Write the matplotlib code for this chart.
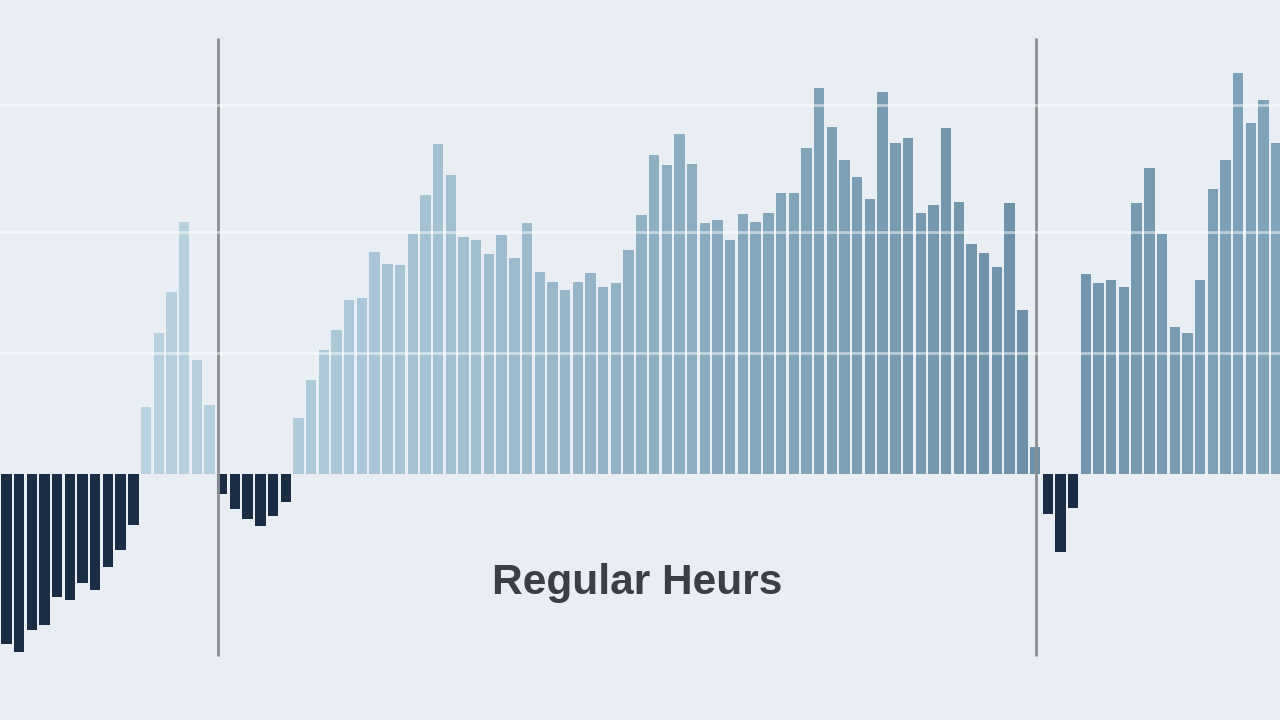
import numpy as np
import matplotlib
matplotlib.use('Agg')
import matplotlib.pyplot as plt
from matplotlib.colors import LinearSegmentedColormap

# bar values per slot (positive = light bars, negative = dark bars)
pre_market_1 = [-170, -178, -156, -151, -123, -126, -109, -116, -93, -76, -51]
early_bump = [67, 141, 182, 252, 114, 69]
pre_market_2 = [-20, -35, -45, -52, -42, -28]
regular_hours = [56, 94, 124, 144, 174, 176, 222, 210, 209, 240, 279, 330, 299,
                 237, 234, 220, 239, 216, 251, 202, 192, 184, 192, 201, 187, 191,
                 224, 259, 319, 309, 340, 310, 251, 254, 234, 260, 252, 261, 281,
                 281, 326, 386, 347, 314, 297, 275, 382, 331, 336, 261, 269, 346,
                 272, 230, 221, 207, 271, 164, 27]
after_dip = [-40, -78, -34]
after_hours = [200, 191, 194, 187, 271, 306, 240, 147, 141, 194, 285, 314, 401,
               351, 374, 331]

session_breaks = [16.67, 81.07]
grid_levels = [121, 242, 369]
label = 'Regular Heurs'

values = np.array(pre_market_1 + early_bump + pre_market_2 + regular_hours
                  + after_dip + after_hours)
slots = np.arange(len(values))

light = LinearSegmentedColormap.from_list(
    'light', [(0, '#c4d9e5'), (0.3, '#a9c5d5'), (0.8, '#6c91a8'), (1.0, '#80a4ba')])
colors = [light(i / (len(values) - 1)) if v > 0 else '#1b2d45'
          for i, v in enumerate(values)]

fig = plt.figure(figsize=(12.8, 7.2), dpi=100)
fig.patch.set_facecolor('#e8eef4')
ax = fig.add_axes([0, 0, 1, 1])
ax.set_facecolor('#e8eef4')

ax.bar(slots, values, width=0.82, color=colors, edgecolor='none')

# white guide lines on top of the bars
ax.set_yticks(grid_levels)
ax.set_axisbelow(False)
ax.grid(axis='y', color='white', linewidth=2, alpha=0.5)

ax.vlines(session_breaks, -182, 436, color='#8a8e93', linewidth=2)

ax.text(0.4977, 0.19, label, transform=ax.transAxes, ha='center', va='center',
        fontsize=30.5, color='#3a3f46', fontfamily='Liberation Sans', fontweight='bold')

ax.set_xlim(-0.5, 100.29)
ax.set_ylim(-246, 474)
ax.set_xticks([])
ax.tick_params(length=0, labelleft=False)
for s in ax.spines.values():
    s.set_visible(False)

fig.savefig('out.png', dpi=100, facecolor=fig.get_facecolor())
